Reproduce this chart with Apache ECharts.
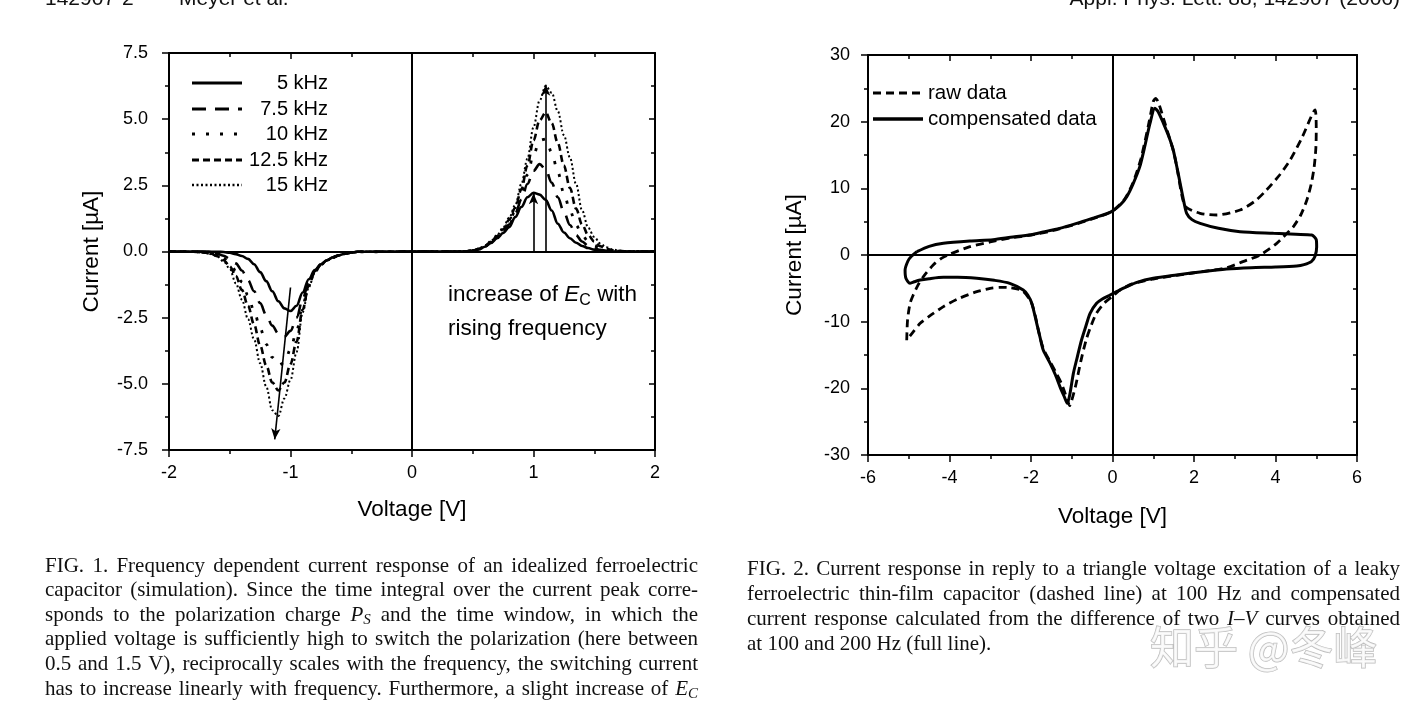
<!DOCTYPE html>
<html>
<head>
<meta charset="utf-8">
<script src="https://cdn.jsdelivr.net/npm/echarts@6/dist/echarts.min.js"></script>
<style>
html,body{margin:0;padding:0;background:#fff;}
#c{width:1410px;height:702px;}
</style>
</head>
<body>
<div id="c"></div>
<script>
// ---------- FIG. 1 data (simulation) ----------
const fig1VoltNeg = [-1.80,-1.75,-1.70,-1.65,-1.60,-1.55,-1.50,-1.45,-1.40,-1.35,-1.30,-1.25,-1.20,-1.15,-1.10,-1.05,-1.00,-0.95,-0.90,-0.85,-0.80,-0.75,-0.70,-0.65,-0.60,-0.55,-0.50,-0.45];
const fig1VoltPos = [0.40,0.45,0.50,0.55,0.60,0.65,0.70,0.75,0.80,0.85,0.90,0.95,1.00,1.05,1.10,1.15,1.20,1.25,1.30,1.35,1.40,1.45,1.50,1.55,1.60,1.65,1.70,1.75,1.80];

const cur5Neg   = [0,0,0,-0.01,-0.01,-0.02,-0.05,-0.10,-0.17,-0.28,-0.48,-0.78,-1.12,-1.50,-1.88,-2.15,-2.25,-2.05,-1.55,-1.05,-0.70,-0.48,-0.33,-0.22,-0.14,-0.08,-0.04,-0.01];
const cur7p5Neg = [-0.01,-0.01,-0.02,-0.05,-0.09,-0.16,-0.28,-0.45,-0.72,-1.08,-1.50,-1.95,-2.40,-2.80,-3.10,-3.22,-3.00,-2.50,-1.80,-1.15,-0.74,-0.49,-0.33,-0.22,-0.14,-0.08,-0.04,-0.01];
const cur10Neg  = [-0.01,-0.02,-0.04,-0.08,-0.14,-0.26,-0.45,-0.72,-1.15,-1.65,-2.25,-2.90,-3.50,-4.00,-4.30,-4.20,-3.70,-3.00,-2.05,-1.22,-0.76,-0.50,-0.33,-0.22,-0.14,-0.08,-0.04,-0.01];
const cur12p5Neg= [-0.01,-0.02,-0.05,-0.10,-0.18,-0.33,-0.56,-0.92,-1.45,-2.05,-2.75,-3.55,-4.30,-4.95,-5.25,-4.95,-4.25,-3.40,-2.20,-1.28,-0.78,-0.50,-0.33,-0.22,-0.14,-0.08,-0.04,-0.01];
const cur15Neg  = [-0.01,-0.02,-0.05,-0.10,-0.20,-0.38,-0.65,-1.20,-1.82,-2.55,-3.32,-4.22,-5.10,-6.00,-6.22,-5.55,-4.85,-3.80,-2.30,-1.35,-0.80,-0.51,-0.34,-0.22,-0.14,-0.08,-0.04,-0.01];

const cur5Pos   = [0,0.01,0.03,0.08,0.18,0.32,0.50,0.70,0.92,1.30,1.68,2.05,2.22,2.15,1.95,1.55,1.05,0.72,0.50,0.33,0.21,0.13,0.07,0.03,0.01,0,0,0,0];
const cur7p5Pos = [0,0.01,0.03,0.08,0.19,0.34,0.53,0.76,1.02,1.45,1.95,2.55,3.05,3.30,3.10,2.60,2.05,1.50,1.00,0.62,0.38,0.22,0.12,0.06,0.03,0.01,0,0,0];
const cur10Pos  = [0,0.01,0.03,0.09,0.20,0.35,0.55,0.80,1.10,1.55,2.15,2.90,3.65,4.20,4.25,3.75,3.00,2.20,1.55,1.00,0.62,0.38,0.22,0.12,0.06,0.03,0.01,0,0];
const cur12p5Pos= [0,0.01,0.04,0.10,0.21,0.37,0.58,0.84,1.20,1.65,2.35,3.25,4.20,4.95,5.25,4.85,4.10,3.25,2.40,1.62,1.02,0.62,0.38,0.20,0.10,0.05,0.02,0.01,0];
const cur15Pos  = [0,0.02,0.05,0.11,0.22,0.40,0.62,0.90,1.28,1.75,2.55,3.50,4.70,5.70,6.26,6.00,5.30,4.40,3.55,2.55,1.55,0.90,0.55,0.30,0.16,0.08,0.04,0.02,0.01];

const fig1Names = ['5 kHz','7.5 kHz','10 kHz','12.5 kHz','15 kHz'];
const fig1XTicks = [-2,-1,0,1,2];
const fig1YTicks = [-7.5,-5.0,-2.5,0.0,2.5,5.0,7.5];

// arrows (annotation) in data units
const arrowLow  = [[1.0,0],[1.0,2.2]];
const arrowHigh = [[1.1,0],[1.1,6.3]];
const arrowNeg  = [[-1.0,-1.36],[-1.13,-7.1]];

// ---------- FIG. 2 data (measured loops) ----------
const rawUp = [[-5.05,-12.80],[-5.03,-9.80],[-4.97,-7.30],[-4.89,-6.00],[-4.78,-4.60],[-4.64,-3.25],[-4.40,-1.50],[-4.20,-0.50],[-4.00,0.10],[-3.50,1.25],[-3.00,1.95],[-2.50,2.55],[-2.00,3.00],[-1.50,3.60],[-1.00,4.45],[-0.50,5.40],[0.00,6.60],[0.30,8.40],[0.50,10.80],[0.70,14.50],[0.90,20.00],[1.00,23.00],[1.06,23.50],[1.13,22.80],[1.25,20.50],[1.40,17.50],[1.50,15.50],[1.60,12.50],[1.70,9.00],[1.80,7.20],[2.15,6.25],[2.56,6.00],[3.13,6.75],[3.50,8.10],[3.78,9.75],[4.10,12.00],[4.36,14.25],[4.65,17.60],[4.97,21.75]];
const rawDown = [[5.00,18.50],[4.99,16.00],[4.95,13.25],[4.88,10.75],[4.77,8.25],[4.62,6.00],[4.44,4.25],[4.36,3.75],[4.03,1.75],[3.62,0.00],[3.20,-1.00],[2.80,-1.90],[2.20,-2.50],[1.57,-3.05],[1.00,-3.60],[0.50,-4.30],[0.20,-5.20],[0.00,-6.20],[-0.20,-7.20],[-0.40,-8.80],[-0.55,-11.00],[-0.65,-12.80],[-0.78,-16.00],[-0.90,-19.50],[-1.00,-21.80],[-1.05,-22.60],[-1.12,-21.50],[-1.25,-19.30],[-1.40,-17.50],[-1.55,-15.80],[-1.70,-14.00],[-1.80,-11.80],[-1.90,-9.00],[-2.00,-7.00],[-2.20,-5.40],[-2.50,-4.90],[-2.76,-4.85],[-3.00,-5.00],[-3.33,-5.50],[-3.80,-6.60],[-4.15,-7.75],[-4.50,-9.20],[-4.72,-10.25],[-4.90,-11.60],[-5.05,-12.80]];
const compUp = [[-4.80,0.50],[-4.50,1.30],[-4.15,1.75],[-3.50,2.10],[-2.93,2.30],[-2.50,2.65],[-2.00,3.05],[-1.70,3.45],[-1.30,4.00],[-0.88,4.75],[-0.50,5.50],[-0.06,6.40],[0.20,7.60],[0.35,8.75],[0.50,10.60],[0.67,13.25],[0.80,16.50],[0.92,19.75],[1.04,22.00],[1.12,21.50],[1.25,19.75],[1.38,17.80],[1.49,15.75],[1.58,13.20],[1.66,10.75],[1.75,8.00],[1.82,6.25],[1.95,5.30],[2.15,4.75],[2.60,4.00],[3.13,3.50],[3.95,3.25],[4.50,3.10],[4.89,3.00]];
const compDown = [[5.00,2.30],[5.01,1.20],[4.97,-0.20],[4.88,-1.00],[4.70,-1.45],[4.52,-1.65],[4.00,-1.80],[3.40,-1.90],[2.80,-2.10],[2.20,-2.50],[1.57,-3.00],[1.00,-3.50],[0.60,-4.10],[0.35,-4.75],[0.10,-5.50],[-0.06,-6.00],[-0.25,-6.60],[-0.39,-7.25],[-0.55,-8.75],[-0.66,-10.80],[-0.76,-12.75],[-0.86,-15.20],[-0.96,-17.75],[-1.05,-21.00],[-1.11,-22.25],[-1.18,-21.30],[-1.29,-19.75],[-1.40,-18.00],[-1.53,-16.25],[-1.70,-14.25],[-1.78,-12.30],[-1.86,-10.25],[-1.98,-7.25],[-2.08,-6.00],[-2.19,-5.25],[-2.52,-4.25],[-2.90,-3.80],[-3.33,-3.50],[-3.80,-3.35],[-4.15,-3.35],[-4.50,-3.55],[-4.72,-3.75],[-4.90,-4.10],[-4.97,-4.25],[-5.07,-3.50],[-5.09,-2.25],[-5.02,-0.90],[-4.95,-0.30],[-4.80,0.50]];
const fig2Names = ['raw data','compensated data'];
const fig2XTicks = [-6,-4,-2,0,2,4,6];
const fig2YTicks = [-30,-20,-10,0,10,20,30];

// ---------- texts ----------
const headerLeft = ['142907-2', 'Meyer et al.'];
const headerRight = 'Appl. Phys. Lett. 88, 142907 (2006)';
const caption1 = [
  'FIG. 1. Frequency dependent current response of an idealized ferroelectric',
  'capacitor (simulation). Since the time integral over the current peak corre-',
  'sponds to the polarization charge {i|P}{sub|S} and the time window, in which the',
  'applied voltage is sufficiently high to switch the polarization (here between',
  '0.5 and 1.5 V), reciprocally scales with the frequency, the switching current',
  'has to increase linearly with frequency. Furthermore, a slight increase of {i|E}{sub|C}'
];
const caption2 = [
  'FIG. 2. Current response in reply to a triangle voltage excitation of a leaky',
  'ferroelectric thin-film capacitor (dashed line) at 100 Hz and compensated',
  'current response calculated from the difference of two {i|I}–{i|V} curves obtained',
  'at 100 and 200 Hz (full line).'
];

// ---------- build ----------
const SANS = '"Liberation Sans", Arial, sans-serif';
const SERIF = '"Liberation Serif", "Times New Roman", serif';
const CAP_SIZE = 21;

function pairs(vs, cs){ return vs.map((v,i)=>[v, cs[i]]); }
function fig1Curve(neg, pos){ return [[-2,0]].concat(pairs(fig1VoltNeg, neg), pairs(fig1VoltPos, pos), [[2,0]]); }

const tickStyle = {color:'#000', width:1.5};
function mainAxis(dim, grid, ticks, fmt, name, nameGap, labelMargin){
  const a = {
    type:'value', gridIndex:grid, min:ticks[0], max:ticks[ticks.length-1], interval:ticks[1]-ticks[0],
    position: dim==='x' ? 'bottom' : 'left',
    axisLine:{show:true, onZero:false, lineStyle:{color:'#000', width:2}},
    axisTick:{show:true, inside:false, length:7, lineStyle:tickStyle},
    minorTick:{show:true, splitNumber:2, length:4, lineStyle:tickStyle},
    splitLine:{show:false}, minorSplitLine:{show:false},
    axisLabel:{show:true, color:'#000', fontSize:18, fontFamily:SANS, margin:labelMargin, formatter:fmt, showMinLabel:true, showMaxLabel:true},
    name:name, nameLocation:'middle', nameGap:nameGap,
    nameTextStyle:{color:'#000', fontSize:22.5, fontFamily:SANS}
  };
  if(dim==='y') a.nameRotate = 90;
  return a;
}
function mirrorAxis(dim, grid, ticks){
  return {
    type:'value', gridIndex:grid, min:ticks[0], max:ticks[ticks.length-1], interval:ticks[1]-ticks[0],
    position: dim==='x' ? 'top' : 'right',
    axisLine:{show:true, onZero:false, lineStyle:{color:'#000', width:2}},
    axisTick:{show:true, inside:true, length:6, lineStyle:tickStyle},
    minorTick:{show:true, splitNumber:2, length:4, lineStyle:tickStyle},
    splitLine:{show:false}, axisLabel:{show:false}
  };
}

const fig1Data = [
  fig1Curve(cur5Neg, cur5Pos),
  fig1Curve(cur7p5Neg, cur7p5Pos),
  fig1Curve(cur10Neg, cur10Pos),
  fig1Curve(cur12p5Neg, cur12p5Pos),
  fig1Curve(cur15Neg, cur15Pos)
];
const fig1Styles = [
  {type:'solid', width:2.6},
  {type:[14,9], width:2.6},
  {type:[3,11], width:2.8},
  {type:[7,4], width:2.6},
  {type:[2,2.5], width:2.0}
];
const fig2Styles = [
  {type:[8,5], width:2.8},
  {type:'solid', width:3}
];

const series = [];
fig1Data.forEach((d,i)=>{
  series.push({
    name:fig1Names[i], type:'line', xAxisIndex:0, yAxisIndex:0, data:d,
    showSymbol:false, symbol:'none', smooth:0.35, smoothMonotone:'x',
    lineStyle:Object.assign({color:'#000', cap:'butt'}, fig1Styles[i]),
    itemStyle:{color:'#000'}, silent:true, animation:false, z:3
  });
});
series.push({
  type:'line', xAxisIndex:0, yAxisIndex:0, data:[], silent:true, animation:false, z:4,
  markLine:{
    silent:true, animation:false, symbol:['none','none'], label:{show:false},
    lineStyle:{color:'#000', width:2, type:'solid'},
    data:[ {xAxis:0}, {yAxis:0} ]
  }
});
series.push({
  type:'line', xAxisIndex:0, yAxisIndex:0, data:[], silent:true, animation:false, z:5,
  markLine:{
    silent:true, animation:false, symbol:['none','arrow'], symbolSize:[7,11], label:{show:false},
    lineStyle:{color:'#000', width:1.6, type:'solid'},
    data:[ [{coord:arrowLow[0]},{coord:arrowLow[1]}], [{coord:arrowHigh[0]},{coord:arrowHigh[1]}], [{coord:arrowNeg[0]},{coord:arrowNeg[1]}] ]
  }
});
series.push({
  name:fig2Names[0], type:'line', xAxisIndex:2, yAxisIndex:2, data:rawUp.concat(rawDown),
  showSymbol:false, symbol:'none', smooth:0.25,
  lineStyle:Object.assign({color:'#000', cap:'butt'}, fig2Styles[0]), silent:true, animation:false, z:3
});
series.push({
  name:fig2Names[1], type:'line', xAxisIndex:2, yAxisIndex:2, data:compUp.concat(compDown),
  showSymbol:false, symbol:'none', smooth:0.25,
  lineStyle:Object.assign({color:'#000'}, fig2Styles[1]), silent:true, animation:false, z:3
});
series.push({
  type:'line', xAxisIndex:2, yAxisIndex:2, data:[], silent:true, animation:false, z:4,
  markLine:{
    silent:true, animation:false, symbol:['none','none'], label:{show:false},
    lineStyle:{color:'#000', width:2, type:'solid'},
    data:[ {xAxis:0}, {yAxis:0} ]
  }
});

// ---- justified caption text ----
const mctx = document.createElement('canvas').getContext('2d');
const capFonts = {
  '': CAP_SIZE + 'px ' + SERIF,
  i: 'italic ' + CAP_SIZE + 'px ' + SERIF,
  sub: 'italic 15px ' + SERIF
};
const capRich = {
  i:{fontStyle:'italic', fontSize:CAP_SIZE, fontFamily:SERIF, fill:'#111'},
  sub:{fontStyle:'italic', fontSize:15, fontFamily:SERIF, fill:'#111', padding:[10,0,0,0]}
};
function wordWidth(w){
  let total = 0; const re = /\{(\w+)\|([^}]*)\}|([^{]+)/g; let m;
  while((m = re.exec(w))){
    const key = m[1] || ''; const txt = m[1] ? m[2] : m[3];
    mctx.font = capFonts[key]; total += mctx.measureText(txt).width;
  }
  return total;
}
function captionGraphics(lines, left, right, top0, step, justifyLast){
  const out = [];
  lines.forEach((line, li)=>{
    const words = line.split(' ');
    const widths = words.map(wordWidth);
    const sum = widths.reduce((a,b)=>a+b,0);
    mctx.font = capFonts['']; const sp = mctx.measureText(' ').width;
    const justify = (li < lines.length-1) || justifyLast;
    const gap = justify ? (right-left-sum)/(words.length-1) : sp;
    let x = left;
    words.forEach((w,wi)=>{
      out.push({type:'text', x:x, y:top0 + li*step, silent:true,
        style:{text:w, fill:'#111', font:CAP_SIZE + 'px ' + SERIF, verticalAlign:'middle', rich:capRich}});
      x += widths[wi] + gap;
    });
  });
  return out;
}

// ---- legends drawn as graphic samples ----
function legendGraphics(names, styles, lineX0, lineX1, rowY, textX, align, fontSize){
  const out = [];
  names.forEach((n,i)=>{
    const st = styles[i];
    out.push({type:'line', silent:true, shape:{x1:lineX0, y1:rowY[i], x2:lineX1, y2:rowY[i]},
      style:{stroke:'#000', lineWidth:st.width + 0.4, lineDash: st.type==='solid' ? null : st.type, lineCap:'butt'}});
    out.push({type:'text', silent:true, x:textX, y:rowY[i],
      style:{text:n, fill:'#000', align:align, verticalAlign:'middle', fontSize:fontSize, fontFamily:SANS}});
  });
  return out;
}

const graphics = [
  {type:'text', x:45, y:10, silent:true, style:{text:headerLeft[0], fontSize:21, fontFamily:SANS, fill:'#111', verticalAlign:'bottom'}},
  {type:'text', x:179, y:10, silent:true, style:{text:headerLeft[1], fontSize:21, fontFamily:SANS, fill:'#111', verticalAlign:'bottom'}},
  {type:'text', x:1400, y:10, silent:true, style:{text:headerRight, fontSize:21, fontFamily:SANS, fill:'#111', align:'right', verticalAlign:'bottom'}},
  {type:'text', x:448, y:295, silent:true, style:{
    text:'{t|increase of }{e|E}{s|C}{t| with}', verticalAlign:'middle',
    rich:{ t:{fontSize:22.5, fontFamily:SANS, fill:'#000'}, e:{fontSize:22.5, fontFamily:SANS, fontStyle:'italic', fill:'#000'}, s:{fontSize:16, fontFamily:SANS, fill:'#000', padding:[11,0,0,0]} }
  }},
  {type:'text', x:448, y:329, silent:true, style:{text:'rising frequency', fontSize:22.5, fontFamily:SANS, fill:'#000', verticalAlign:'middle'}},
  {type:'text', x:1150, y:647, silent:true, z:100, style:{text:'知乎 @冬峰', fontSize:44, fontFamily:'"Noto Sans CJK SC", sans-serif', fill:'rgba(250,250,250,0.85)', stroke:'#bdbdbd', lineWidth:1.5, verticalAlign:'middle'}}
].concat(
  legendGraphics(fig1Names, fig1Styles, 192, 242, [83,109,134,160,185], 328, 'right', 20),
  legendGraphics(fig2Names, fig2Styles, 873, 923, [93,119], 928, 'left', 20.5),
  captionGraphics(caption1, 45, 698, 566, 24.6, true),
  captionGraphics(caption2, 747, 1400, 569, 25, false)
);

const option = {
  animation:false,
  backgroundColor:'#ffffff',
  grid:[
    {left:169, top:53, width:486, height:397},
    {left:868, top:55, width:489, height:400}
  ],
  xAxis:[
    mainAxis('x', 0, fig1XTicks, v=>String(v), 'Voltage [V]', 48, 14),
    mirrorAxis('x', 0, fig1XTicks),
    mainAxis('x', 1, fig2XTicks, v=>String(v), 'Voltage [V]', 50, 14),
    mirrorAxis('x', 1, fig2XTicks)
  ],
  yAxis:[
    mainAxis('y', 0, fig1YTicks, v=>v.toFixed(1), 'Current [µA]', 66, 21),
    mirrorAxis('y', 0, fig1YTicks),
    mainAxis('y', 1, fig2YTicks, v=>String(v), 'Current [µA]', 62, 18),
    mirrorAxis('y', 1, fig2YTicks)
  ],
  graphic:graphics,
  series:series
};

const chart = echarts.init(document.getElementById('c'), null, {renderer:'canvas'});
chart.setOption(option);
</script>
</body>
</html>
